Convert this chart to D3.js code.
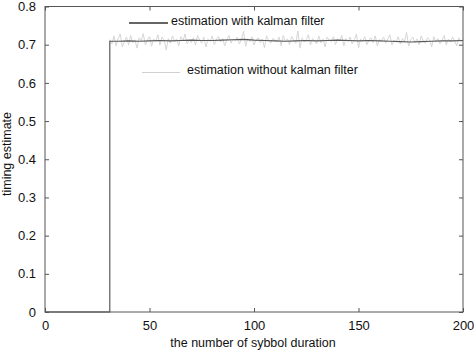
<!DOCTYPE html>
<html>
<head>
<meta charset="utf-8">
<script src="https://cdn.jsdelivr.net/npm/d3@7"></script>
<style>
  html, body { margin: 0; padding: 0; background: #fff; }
  svg { display: block; font-family: "Liberation Sans", Arial, sans-serif; }
</style>
</head>
<body>
<div class="graph_timing"></div>
<script>
// ticks
const xTicks = [0, 50, 100, 150, 200];
const yTicks = [0, 0.1, 0.2, 0.3, 0.4, 0.5, 0.6, 0.7, 0.8];

// step start (estimate is 0 before this symbol)
const stepStart = 31;
const preStepX = [0, 31];
const preStepY = [0, 0];

// estimation with kalman filter (smooth)
const kalmanX = [31, 35, 40, 45, 50, 55, 60, 65, 70, 75, 80, 85, 90, 95, 100, 105, 110, 115, 120,
                 125, 130, 135, 140, 145, 150, 155, 160, 165, 170, 175, 180, 185, 190, 195, 200];
const kalmanY = [0.709, 0.709, 0.710, 0.709, 0.710, 0.711, 0.710, 0.711, 0.712, 0.711, 0.711, 0.712,
                 0.713, 0.714, 0.712, 0.711, 0.710, 0.709, 0.710, 0.711, 0.710, 0.711, 0.712, 0.711,
                 0.710, 0.711, 0.710, 0.709, 0.708, 0.707, 0.708, 0.709, 0.710, 0.710, 0.711];

// estimation without kalman filter (noisy), one value per symbol 31..200
const rawY = [
  0.713,0.702,0.723,0.697,0.716,0.728,0.694,0.708,0.720,0.699,
  0.724,0.705,0.713,0.691,0.718,0.710,0.729,0.700,0.712,0.721,
  0.696,0.715,0.707,0.726,0.699,0.720,0.712,0.686,0.716,0.704,
  0.723,0.708,0.715,0.697,0.721,0.710,0.728,0.702,0.713,0.705,
  0.718,0.699,0.724,0.712,0.704,0.720,0.694,0.715,0.708,0.723,
  0.700,0.713,0.721,0.707,0.716,0.697,0.712,0.724,0.704,0.715,
  0.710,0.720,0.702,0.713,0.735,0.696,0.716,0.708,0.721,0.699,
  0.712,0.718,0.705,0.715,0.692,0.723,0.710,0.704,0.716,0.713,
  0.707,0.720,0.697,0.724,0.708,0.715,0.700,0.721,0.712,0.704,
  0.736,0.691,0.718,0.707,0.713,0.726,0.699,0.716,0.710,0.702,
  0.723,0.705,0.715,0.694,0.720,0.712,0.708,0.721,0.700,0.715,
  0.710,0.724,0.697,0.716,0.707,0.720,0.702,0.713,0.728,0.692,
  0.715,0.708,0.721,0.700,0.712,0.718,0.705,0.723,0.697,0.713,
  0.710,0.720,0.704,0.715,0.726,0.699,0.712,0.707,0.721,0.702,
  0.716,0.708,0.732,0.696,0.713,0.720,0.705,0.715,0.700,0.723,
  0.710,0.704,0.718,0.713,0.694,0.721,0.708,0.716,0.702,0.712,
  0.724,0.699,0.715,0.707,0.720,0.710,0.697,0.718,0.708,0.713
];

const legendLabels = ["estimation with kalman filter", "estimation without kalman filter"];

const width = 474, height = 351;
const margin = {top: 6.5, right: 11, bottom: 39, left: 45};

const svg = d3.select(".graph_timing").append("svg")
  .attr("width", width).attr("height", height);

const x = d3.scaleLinear().domain([0, 200]).range([margin.left, width - margin.right]);
const y = d3.scaleLinear().domain([0, 0.8]).range([height - margin.bottom, margin.top]);

const line = d3.line().x(d => x(d[0])).y(d => y(d[1]));

const pre = preStepX.map((v, i) => [v, preStepY[i]]);
const rawPts = pre.concat(rawY.map((v, i) => [stepStart + i, v]));
const kalPts = pre.concat(kalmanX.map((v, i) => [v, kalmanY[i]]));

// noisy series first, smooth series on top
svg.append("path")
  .attr("d", line(rawPts))
  .attr("fill", "none")
  .attr("stroke", "#d6d6d6")
  .attr("stroke-width", 1);

svg.append("path")
  .attr("d", line(kalPts))
  .attr("fill", "none")
  .attr("stroke", "#5a5a5a")
  .attr("stroke-width", 1.1);

// axes (matlab style: inward ticks on all sides)
const yFmt = d => d === 0 ? "0" : d3.format(".1f")(d);
const axisStyle = g => {
  g.select(".domain").remove();
  g.selectAll(".tick line").attr("stroke", "#555");
  g.selectAll(".tick text").attr("fill", "#111").attr("font-size", 13)
    .attr("font-family", "'Liberation Sans', Arial, sans-serif");
};

svg.append("g")
  .attr("transform", `translate(0, ${y(0)})`)
  .call(d3.axisBottom(x).tickValues(xTicks).tickSize(-4).tickPadding(9))
  .call(axisStyle);

svg.append("g")
  .attr("transform", `translate(0, ${y(0.8)})`)
  .call(d3.axisTop(x).tickValues(xTicks).tickSize(-4).tickFormat(""))
  .call(axisStyle);

svg.append("g")
  .attr("transform", `translate(${x(0)}, 0)`)
  .call(d3.axisLeft(y).tickValues(yTicks).tickSize(-4).tickPadding(9).tickFormat(yFmt))
  .call(axisStyle);

svg.append("g")
  .attr("transform", `translate(${x(200)}, 0)`)
  .call(d3.axisRight(y).tickValues(yTicks).tickSize(-4).tickFormat(""))
  .call(axisStyle);

// frame
svg.append("rect")
  .attr("x", x(0)).attr("y", y(0.8))
  .attr("width", x(200) - x(0)).attr("height", y(0) - y(0.8))
  .attr("fill", "none").attr("stroke", "#555").attr("stroke-width", 1);

// axis titles
svg.append("text")
  .attr("x", 253).attr("y", 347)
  .attr("text-anchor", "middle")
  .attr("font-size", 12.5)
  .attr("fill", "#111")
  .text("the number of sybbol duration");

svg.append("text")
  .attr("transform", `translate(11, 154) rotate(-90)`)
  .attr("text-anchor", "middle")
  .attr("font-size", 12.5)
  .attr("fill", "#111")
  .text("timing estimate");

// legend
const legend = svg.append("g");
const legendPos = [{x1: 129, x2: 168, y: 23, tx: 171, color: "#333", w: 1.6},
                   {x1: 142, x2: 180, y: 72.5, tx: 187, color: "#d0d0d0", w: 1}];

legend.selectAll("line")
  .data(legendLabels)
  .join("line")
  .attr("x1", (d, i) => legendPos[i].x1)
  .attr("x2", (d, i) => legendPos[i].x2)
  .attr("y1", (d, i) => legendPos[i].y)
  .attr("y2", (d, i) => legendPos[i].y)
  .attr("stroke", (d, i) => legendPos[i].color)
  .attr("stroke-width", (d, i) => legendPos[i].w);

legend.selectAll("text")
  .data(legendLabels)
  .join("text")
  .attr("x", (d, i) => legendPos[i].tx)
  .attr("y", (d, i) => legendPos[i].y + 1.5)
  .attr("font-size", 12.5)
  .attr("fill", "#111")
  .text(d => d);
</script>
</body>
</html>
